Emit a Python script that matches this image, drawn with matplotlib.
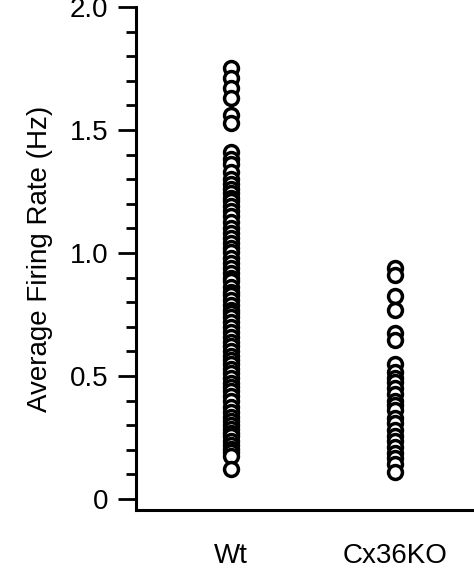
import matplotlib.pyplot as plt

plt.rcParams['font.family'] = ['Liberation Sans', 'DejaVu Sans']

# firing rate of each cell (Hz)
wt_rates = [1.75, 1.71, 1.67, 1.63, 1.56, 1.53,
            1.41, 1.38, 1.36, 1.33, 1.30, 1.28, 1.26, 1.245, 1.225, 1.21,
            1.19, 1.17, 1.15, 1.125, 1.10, 1.08, 1.06, 1.04, 1.02, 1.005,
            0.98, 0.96, 0.94, 0.92, 0.90, 0.885, 0.86, 0.84, 0.83, 0.81,
            0.79, 0.77, 0.755, 0.74, 0.72, 0.70, 0.68, 0.66, 0.64, 0.62,
            0.60, 0.58, 0.565, 0.55, 0.53, 0.51, 0.49, 0.47, 0.455, 0.44,
            0.42, 0.40, 0.375, 0.355, 0.335, 0.315, 0.30, 0.285, 0.27, 0.255,
            0.235, 0.22, 0.205, 0.19, 0.175, 0.12]
ko_rates = [0.94, 0.91, 0.825, 0.77, 0.675, 0.645, 0.55, 0.515, 0.49,
            0.475, 0.45, 0.425, 0.40, 0.38, 0.36, 0.33, 0.31, 0.28, 0.255,
            0.235, 0.21, 0.185, 0.165, 0.14, 0.11]
groups = ['Wt', 'Cx36KO']

fig = plt.figure(figsize=(4.74, 5.69), dpi=100)
ax = fig.add_axes([0.287, 0.1037, 0.713, 0.884])

for i, rates in enumerate([wt_rates, ko_rates]):
    ax.plot([i + 1] * len(rates), rates, 'o', ls='none', ms=10,
            mfc='white', mec='black', mew=2.5)

ax.set_xlim(0.42, 2.485)
ax.set_ylim(-0.045, 2.0)
ax.set_xticks([1, 2])
ax.set_xticklabels(groups, fontsize=20)
ax.tick_params(axis='x', length=0, pad=24)
ax.set_yticks([0, 0.5, 1.0, 1.5, 2.0])
ax.set_yticklabels(['0', '0.5', '1.0', '1.5', '2.0'], fontsize=20)
ax.set_yticks([0.1, 0.2, 0.3, 0.4, 0.6, 0.7, 0.8, 0.9,
               1.1, 1.2, 1.3, 1.4, 1.6, 1.7, 1.8, 1.9], minor=True)
ax.tick_params(axis='y', which='major', length=13, width=2, pad=7)
ax.tick_params(axis='y', which='minor', length=7, width=2)
ax.set_ylabel('Average Firing Rate (Hz)', fontsize=20, labelpad=12)

for s in ['top', 'right']:
    ax.spines[s].set_visible(False)
for s in ['left', 'bottom']:
    ax.spines[s].set_linewidth(2.2)
ax.spines['left'].set_bounds(-0.045, 2.0)

fig.savefig('out.png', dpi=100)
